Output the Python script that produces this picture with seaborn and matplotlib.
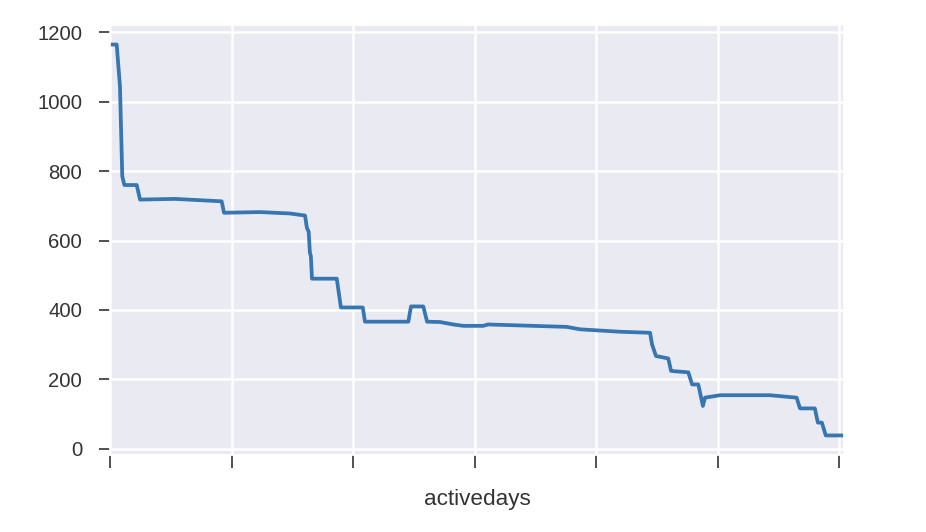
import matplotlib
matplotlib.use("Agg")
import matplotlib.pyplot as plt
import seaborn as sns
import pandas as pd

# Vertices of the curve (x = position on the activedays axis)
activedays = [0, 5.5, 8.2, 10.1, 11.8, 22, 24.7, 53.5, 91.9, 93.8, 123.4, 148, 160.5,
              162, 163.5, 164.5, 165.3, 166.2, 186.6, 190, 208, 209.8, 245.5, 247.7,
              257.8, 260.9, 271.6, 282.5, 290.8, 307.2, 311, 375.8, 386.8, 419.7,
              444.4, 446, 449.3, 459.4, 461.7, 475.9, 479, 484.1, 487.9, 489.6, 502,
              543, 565, 567.8, 580, 582.5, 585.8, 589, 604]
values = [1165, 1165, 1045, 785, 760, 760, 718, 720, 713, 680, 682, 678, 672,
          637, 625, 565, 555, 490, 490, 407, 407, 366, 366, 410,
          410, 366, 365, 358, 354, 354, 358, 351, 344, 337,
          334, 301, 267, 260, 224, 220, 185, 185, 123, 147, 154,
          154, 147, 116, 116, 75, 75, 38, 38]
xtick_positions = [0, 100, 200, 300, 400, 500, 600]
xlabel = "activedays"

df = pd.DataFrame({"activedays": activedays, "value": values})

sns.set_theme(style="darkgrid")
plt.rcParams["font.family"] = ["Liberation Sans", "DejaVu Sans"]

fig = plt.figure(figsize=(9.26, 5.32), dpi=100)
ax = fig.add_axes([110 / 926, 1 - 455 / 532, (844 - 110) / 926, (455 - 25) / 532])

sns.lineplot(data=df, x="activedays", y="value", ax=ax, sort=False, estimator=None,
             color="#3776b0", linewidth=2.7)

ax.margins(x=0)
ax.set_xticks(xtick_positions)
ax.set_xticklabels([])
ax.set_yticks([0, 200, 400, 600, 800, 1000, 1200])
ax.tick_params(axis="x", bottom=True, length=9, width=1.2, color=".2", direction="out")
ax.tick_params(axis="y", left=True, length=8, width=1.2, color=".2", direction="out",
               labelsize=14.6, labelcolor=".2", pad=12)
ax.set_xlabel(xlabel, fontsize=16.2, color=".2", labelpad=12)
ax.set_ylabel("")
for line in ax.get_xgridlines() + ax.get_ygridlines():
    line.set_linewidth(1.8)

fig.savefig("out.png", dpi=100)
